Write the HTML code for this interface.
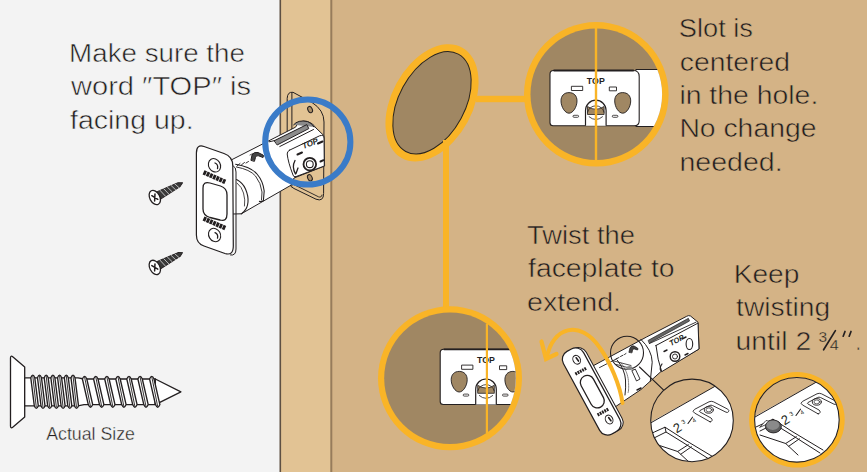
<!DOCTYPE html>
<html><head><meta charset="utf-8">
<style>
html,body{margin:0;padding:0;width:867px;height:472px;overflow:hidden;background:#f3f3f3}
svg{display:block}
text{font-family:"Liberation Sans",sans-serif;fill:#231f20}
.tl text{stroke:#f3f3f3;stroke-width:0.55px;paint-order:normal}
.tr text{stroke:#d4b386;stroke-width:0.55px;paint-order:normal}
</style></head><body>
<svg width="867" height="472" viewBox="0 0 867 472">
<defs>
 <clipPath id="c1"><circle cx="596.3" cy="94.3" r="65.8"/></clipPath>
 <clipPath id="c2"><circle cx="450" cy="378.3" r="65.8"/></clipPath>
 <clipPath id="c3"><circle cx="692" cy="420.4" r="41.3"/></clipPath>
 <clipPath id="c4"><circle cx="796.9" cy="419.8" r="42.3"/></clipPath>

 <g id="latch" stroke="#231f20" stroke-linejoin="round">
  <path d="M40,-41 L90,-41 L90,16 L40,16 Z" fill="#fff" stroke-width="1"/>
  <path d="M-42.3,-40 L37.4,-40 Q43.4,-40 43.4,-34 L43.4,10.2 Q43.4,15.2 38.4,15.2 L-42.8,15.2 Q-45.8,15.2 -45.8,12.2 L-45.8,-36.5 Q-45.8,-40 -42.3,-40 Z" fill="#fff" stroke-width="1.1"/>
  <path d="M-42.3,-40 L38,-40" stroke-width="1.8" fill="none"/>
  <text x="0" y="-26.2" font-size="9.8" font-weight="bold" text-anchor="middle" textLength="17.9" lengthAdjust="spacingAndGlyphs" stroke="none" style="fill:#231f20">TOP</text>
  <rect x="-24.4" y="-24.2" width="11.3" height="4.2" fill="#fff" stroke-width="0.9"/>
  <rect x="13.5" y="-23.5" width="7.2" height="3.8" fill="#fff" stroke-width="0.9"/>
  <path id="egg" d="M0,-10.3 C5,-10.3 8,-7 8,-2 C8,4 4,10.3 0,10.3 C-4,10.3 -8,4 -8,-2 C-8,-7 -5,-10.3 0,-10.3 Z" transform="translate(-26.8 -7.6)" fill="#a08763" stroke-width="0.9"/>
  <path d="M0,-10.3 C5,-10.3 8,-7 8,-2 C8,4 4,10.3 0,10.3 C-4,10.3 -8,4 -8,-2 C-8,-7 -5,-10.3 0,-10.3 Z" transform="translate(26.9 -7.6)" fill="#a08763" stroke-width="0.9"/>
  <path d="M-10.3,15.2 L-10.3,0 A10.3,10.3 0 0 1 10.3,0 L10.3,15.2" fill="#fff" stroke-width="1.2"/>
  <path d="M-8.3,-4 Q0,1.5 8.3,-4 L8.3,4 L-8.3,4 Z" fill="#a08763" stroke-width="0.8"/>
  <path d="M-8.3,2 A8.5,8.5 0 0 1 8.3,2 M-7,6 Q0,12 7,6" fill="none" stroke-width="0.8"/>
  <rect x="-22.8" y="4.8" width="5.6" height="2" rx="1" fill="#fff" stroke-width="0.8"/>
  <rect x="16.5" y="4.8" width="5.6" height="2" rx="1" fill="#fff" stroke-width="0.8"/>
 </g>

 <g id="magc">
  <path d="M600,450.5 L714.3,386.7 L714.3,330 L600,330 Z" fill="#d4b386"/>
  <path d="M714.3,386.7 L760,361 L760,330 L714.3,330 Z" fill="#d4b386"/>
  <g stroke="#231f20" stroke-width="1" fill="none" stroke-linejoin="round" stroke-linecap="round">
   <path d="M640,429 L714.3,386.7 L760,361"/>
   <path d="M648,435 L654.4,432 L665,427.2 L684,439.4 L715,458 M652,439 L666,432 L683,442.5 L712,461 M665,427.2 L666,432 M652,443 L677.7,451.5 L690,463 M677.7,451.5 L688.3,444.7 M680.8,454.2 L691.4,446.8"/>
   <path d="M710,421.8 L694.5,413 Q691.5,411.3 694.5,409.4 L709,401.8 Q711.3,400.8 713.5,401.8 L727.8,409.2 Q729.5,410.3 728.5,411.7 Q727.5,413 726,412.2 L712.5,405.5 Q711,404.8 709.5,405.5 L700,410.5 Q698.6,411.3 700,412 L711,418 Q712.5,419 712,420.6 Q711.3,422.2 710,421.8 Z" stroke-width="0.9"/>
   <ellipse cx="708.8" cy="409.9" rx="4.5" ry="3.3" stroke-width="0.9"/>
   <ellipse cx="708.8" cy="409.9" rx="2.8" ry="2" stroke-width="0.7"/>
   <path d="M688,423.5 L692.5,417.2" stroke-width="1.1"/>
  </g>
  <text x="0" y="0" font-size="13" stroke="none" transform="translate(676.5,433.5) rotate(-31)" style="fill:#231f20">2</text>
  <text x="0" y="0" font-size="6" stroke="none" transform="translate(683,424.5) rotate(-32)" style="fill:#231f20">3</text>
  <text x="0" y="0" font-size="6" stroke="none" transform="translate(693.8,423) rotate(-32)" style="fill:#231f20">4</text>
 </g>
</defs>
<!-- backgrounds -->
<rect x="0" y="0" width="280" height="472" fill="#f3f3f3"/>
<rect x="280" y="0" width="52" height="472" fill="#e2c394"/>
<rect x="332" y="0" width="535" height="472" fill="#d4b386"/>
<rect x="279.5" y="0" width="1.6" height="472" fill="#5e5043"/>
<rect x="330.3" y="0" width="2" height="472" fill="#977c5b"/>

<!-- left text -->
<g font-size="26.6" class="tl">
<text x="69.1" y="62" textLength="175.8" lengthAdjust="spacingAndGlyphs">Make sure the</text>
<text x="71.0" y="95.4" textLength="180.0" lengthAdjust="spacingAndGlyphs">word ″TOP″ is</text>
<text x="70.0" y="128.8" textLength="123.6" lengthAdjust="spacingAndGlyphs">facing up.</text>

</g><g font-size="26.6" class="tr">
<text x="678.8" y="37.3" textLength="74.2" lengthAdjust="spacingAndGlyphs">Slot is</text>
<text x="679.8" y="70.6" textLength="110.2" lengthAdjust="spacingAndGlyphs">centered</text>
<text x="679.4" y="104" textLength="138.9" lengthAdjust="spacingAndGlyphs">in the hole.</text>
<text x="679.4" y="137.4" textLength="137.0" lengthAdjust="spacingAndGlyphs">No change</text>
<text x="679.4" y="170.8" textLength="103.2" lengthAdjust="spacingAndGlyphs">needed.</text>

<text x="527.0" y="243.9" textLength="107.9" lengthAdjust="spacingAndGlyphs">Twist the</text>
<text x="528.0" y="277.3" textLength="146.6" lengthAdjust="spacingAndGlyphs">faceplate to</text>
<text x="527.0" y="310.7" textLength="94.1" lengthAdjust="spacingAndGlyphs">extend.</text>

<text x="733.7" y="283" textLength="65.7" lengthAdjust="spacingAndGlyphs">Keep</text>
<text x="736.1" y="316.4" textLength="94.2" lengthAdjust="spacingAndGlyphs">twisting</text>
<text x="735.6" y="349.8" textLength="75.6" lengthAdjust="spacingAndGlyphs">until 2</text>
<text x="818.6" y="341.6" font-size="14.8" textLength="8.6" lengthAdjust="spacingAndGlyphs" style="stroke-width:0.3px">3</text>
<text x="829.8" y="349.7" font-size="14.8" textLength="9" lengthAdjust="spacingAndGlyphs" style="stroke-width:0.3px">4</text>
<text x="856.2" y="349.8" textLength="4" lengthAdjust="spacingAndGlyphs">.</text>
</g>
<g class="tl"><text x="46.2" y="439.8" font-size="17.5" style="stroke-width:0.35px" textLength="88.8" lengthAdjust="spacingAndGlyphs" style="fill:#3a3a3a">Actual Size</text></g>

<path d="M823.6,349.8 L835.4,330.6 M845,331.5 L843.2,336.2 M851,331.5 L849.2,336.2" stroke="#231f20" stroke-width="1.7" stroke-linecap="round" fill="none"/>
<!-- ellipse hole -->
<g transform="translate(432 102.8) rotate(28.4)">
 <ellipse cx="0" cy="0" rx="40.5" ry="63" fill="#f9b427"/>
 <ellipse cx="0" cy="0" rx="33" ry="55.3" fill="#a08763" stroke="#2a2520" stroke-width="1"/>
</g>
<!-- connectors -->
<rect x="476" y="95.8" width="50" height="6.4" fill="#f9b427"/>
<rect x="443" y="140" width="6" height="170" fill="#f9b427"/>

<!-- top circle -->
<circle cx="596.3" cy="94.3" r="72.3" fill="#f9b427"/>
<circle cx="596.3" cy="94.3" r="65.8" fill="#a08763"/>
<g clip-path="url(#c1)"><use href="#latch" transform="translate(595.8 110.5)"/></g>
<rect x="594.8" y="28" width="2.4" height="133" fill="#f9b427"/>

<!-- bottom circle -->
<circle cx="450" cy="378.3" r="72" fill="#f9b427"/>
<circle cx="450" cy="378.3" r="65.8" fill="#a08763"/>
<g clip-path="url(#c2)"><use href="#latch" transform="translate(486 389.3)"/></g>
<rect x="485.8" y="323.5" width="2.2" height="110" fill="#f9b427"/>


<!-- lock 1 -->
<g stroke="#231f20" stroke-width="1" stroke-linejoin="round" stroke-linecap="round">
 <!-- backplate -->
 <path d="M287.2,98 Q287.5,91.5 293,92.3 L312,102.5 Q324,110 324,122 L323.6,193.5 Q323.6,202 316,199.2 L294,188.5 Q287.2,185 287.2,178 Z" fill="#e2c394"/>
 <path d="M292.7,184 L318.5,196.8 Q321.5,198 322,195" fill="none" stroke-width="0.9"/>
 <path d="M291.9,186 L291.9,93" fill="none"/>
 <ellipse cx="310.1" cy="109.6" rx="2.2" ry="3.3" transform="rotate(-25 310.1 109.6)" fill="#ad9068"/>
 <ellipse cx="309.9" cy="177.8" rx="2.2" ry="3.3" transform="rotate(-25 309.9 177.8)" fill="#ad9068"/>
 <!-- body -->
 <path d="M232,159.6 L295.5,127.2 Q299,119.5 307.5,121.5 Q313,123 316,128 L323.7,135.4 L324.6,166 L294,178 L291,185.2 L241.3,213.8 L233,214 Z" fill="#fff"/>
 <path d="M293.6,124.8 Q298,119.5 307.4,121.5 Q312,123 314,127" fill="#8a8a8a"/>
 <path d="M274.5,140.6 L306.8,124.6 L308.8,128.6 L277.5,144.8 Z" fill="#8c8c8c" stroke-width="1"/>
 <path d="M269.2,141.8 L274.5,140.6 M279.8,146.5 L313.5,129.5" fill="none"/>
 <!-- front TOP face -->
 <path d="M289.5,150.2 L319.6,135.8 Q324,134.5 324,138 L324.3,166 L296,176.6 Q293.5,177.5 293,175 Q288,162 287.2,154 Q287,151.4 289.5,150.2 Z" fill="#fff"/>
 <text x="0" y="0" font-size="8" font-weight="bold" font-style="italic" stroke="none" transform="translate(303.5,149) rotate(-22)" style="fill:#231f20">TOP</text>
 <path d="M297.5,154.5 L302,152.5 M318,143.5 L322.5,141.5 M320.5,161.5 L323.5,160.2" fill="none" stroke-width="2"/>
 <circle cx="309.8" cy="164.2" r="6.3" fill="#fff" stroke-width="1.8"/>
 <circle cx="309.8" cy="164.2" r="3.4" fill="none" stroke-width="1.1"/>
 <path d="M295.5,174 Q291.5,167 295,160.5 M296,173.5 L298,168" fill="none" stroke-width="1.3"/>
 <!-- collar -->
 <path d="M235.6,164.3 Q251,167 257,174 Q263,181 264.2,191 L263.4,200.5 Q262,202 259.4,201.4" fill="none" stroke-width="1.1"/>
 <path d="M236.5,167 Q250,169.5 255.5,176 Q261,183 262,192 L261.5,200" fill="none" stroke-width="0.9"/>
 <path d="M236.6,179.5 Q243,183 245.5,189 Q248.5,196 248,202 Q247.5,208 244,211.5 L241.3,213.8" fill="none" stroke-width="1.1"/>
 <path d="M237,183 Q242,187 243.5,193 Q245.5,200 244.5,206" fill="none" stroke-width="0.8"/>
 <!-- 2 3/4 marks -->
 <path d="M251,160 L252,155 Q254,151.5 258,152.5 L263,155 Q264.5,156.5 263,157.5 L258.5,155.8 Q256,155 255.5,157.5 L254.5,161 Z" fill="#444" stroke-width="1"/>
 <path d="M237,166 L240,163.5 M241.5,164.8 L244.5,162.5 M246,163 L248.5,161.5" fill="none" stroke-width="0.9"/>
 <!-- faceplate -->
 <path d="M233.5,166 Q236,167 236,172 L236,249 Q236,256 230.5,255" fill="none" stroke-width="1"/>
 <path d="M196.4,153 Q196.4,144 204,146.5 L224,153.5 Q232.8,156.5 232.8,166 L233.3,246 Q233.3,256 225,253.5 L204,246 Q196.4,243.5 196.4,235 Z" fill="#fff" stroke-width="1.2"/>
 <ellipse cx="214.5" cy="165.3" rx="5.8" ry="7" transform="rotate(-30 214.5 165.3)" fill="#fff" stroke-width="1.1"/>
 <path d="M215,163 Q218.5,164.5 217.5,168.5" fill="none" stroke-width="1.3"/>
 <ellipse cx="214.6" cy="235" rx="5.8" ry="7" transform="rotate(-30 214.6 235)" fill="#fff" stroke-width="1.1"/>
 <path d="M215,232.7 Q218.5,234.2 217.5,238.2" fill="none" stroke-width="1.3"/>
 <path d="M203,188 Q203,181 210,183 L220.5,186 Q227,188 227,195 L227,214 Q227,222 220,220 L210,217.5 Q203,215.5 203,209 Z" fill="#fff" stroke-width="1.3"/>
 <path d="M203.5,172.3 L225.5,182" fill="none" stroke-width="4.6" stroke-dasharray="2.8 0.7" stroke-linecap="butt"/>
 <path d="M203.5,218.5 L225.5,228.2" fill="none" stroke-width="4.6" stroke-dasharray="2.8 0.7" stroke-linecap="butt"/>
 <!-- 2 3/4 notch on body -->
 <path d="M250,155 L253,153.5" fill="none" stroke-width="0.8"/>
 <!-- screws -->
 <g transform="translate(154.8,197.5) rotate(-28)">
  <path d="M3,-4.2 L27.5,-2.2 L31.5,0 L27.5,2.2 L3,4.2 Z" fill="#3a3a3a" stroke-width="0.9"/>
  <path d="M8,-3.8 L10,3.8 M12,-3.5 L14,3.5 M16,-3.2 L18,3.2 M20,-3 L22,3 M24,-2.7 L26,2.7" stroke="#cfcfcf" stroke-width="0.8"/>
  <ellipse cx="0" cy="0" rx="5" ry="7.6" fill="#fff" stroke-width="1.3"/>
  <path d="M-1.8,-3 L1.8,3 M1.8,-3 L-1.8,3" stroke-width="1.5"/>
 </g>
 <g transform="translate(154.8,267.4) rotate(-28)">
  <path d="M3,-4.2 L27.5,-2.2 L31.5,0 L27.5,2.2 L3,4.2 Z" fill="#3a3a3a" stroke-width="0.9"/>
  <path d="M8,-3.8 L10,3.8 M12,-3.5 L14,3.5 M16,-3.2 L18,3.2 M20,-3 L22,3 M24,-2.7 L26,2.7" stroke="#cfcfcf" stroke-width="0.8"/>
  <ellipse cx="0" cy="0" rx="5" ry="7.6" fill="#fff" stroke-width="1.3"/>
  <path d="M-1.8,-3 L1.8,3 M1.8,-3 L-1.8,3" stroke-width="1.5"/>
 </g>
</g>
<!-- big screw -->
<g stroke="#231f20" stroke-width="1.3" stroke-linejoin="round" fill="#fff">
 <path d="M10.5,358 Q10.5,355 13,357 L24.7,367 L24.7,417 L13,427 Q10.5,429 10.5,426 Z"/>
 <path d="M24.7,377.8 L78,377.8 L84,379 L155.3,379 L155.3,404.6 L84,404.6 L78,405.8 L24.7,405.8 Z"/>
 <path d="M155.3,379 L180.9,391.8 L155.3,404.6 Z"/>
 <path stroke-width="1.35" d="M30.8,377.8 Q32.8,372.5 34.8,377.8 L38.3,405.8 Q36.3,411 34.3,405.8 Z M37.5,377.8 Q39.5,372.5 41.5,377.8 L45.0,405.8 Q43.0,411 41.0,405.8 Z M44.2,377.8 Q46.2,372.5 48.2,377.8 L51.7,405.8 Q49.7,411 47.7,405.8 Z M50.9,377.8 Q52.9,372.5 54.9,377.8 L58.4,405.8 Q56.4,411 54.4,405.8 Z M57.6,377.8 Q59.6,372.5 61.6,377.8 L65.1,405.8 Q63.1,411 61.1,405.8 Z M64.3,377.8 Q66.3,372.5 68.3,377.8 L71.8,405.8 Q69.8,411 67.8,405.8 Z M71.0,377.8 Q73.0,372.5 75.0,377.8 L78.5,405.8 Q76.5,411 74.5,405.8 Z M82.4,379 Q84.6,373.8 86.8,379 L92.7,404.6 Q90.5,409.8 88.3,404.6 Z M93.6,379 Q95.8,373.8 98.0,379 L103.9,404.6 Q101.7,409.8 99.5,404.6 Z M104.7,379 Q106.9,373.8 109.1,379 L115.0,404.6 Q112.8,409.8 110.6,404.6 Z M115.8,379 Q118.0,373.8 120.2,379 L126.1,404.6 Q123.9,409.8 121.7,404.6 Z M126.8,379 Q129.0,373.8 131.2,379 L137.1,404.6 Q134.9,409.8 132.7,404.6 Z M137.9,379 Q140.1,373.8 142.3,379 L148.2,404.6 Q146.0,409.8 143.8,404.6 Z M149.6,379 Q151.8,373.8 154.0,379 L159.9,404.6 Q157.7,409.8 155.5,404.6 Z"/>
 <path fill="none" stroke-width="0.9" d="M32.8,376 L36.3,407.5 M39.5,376 L43.0,407.5 M46.2,376 L49.7,407.5 M52.9,376 L56.4,407.5 M59.6,376 L63.1,407.5 M66.3,376 L69.8,407.5 M73.0,376 L76.5,407.5 M84.6,377 L90.5,406.5 M95.8,377 L101.7,406.5 M106.9,377 L112.8,406.5 M118.0,377 L123.9,406.5 M129.0,377 L134.9,406.5 M140.1,377 L146.0,406.5 M151.8,377 L157.7,406.5"/>
</g>

<!-- lock 2 -->
<g stroke="#231f20" stroke-width="1" stroke-linejoin="round" stroke-linecap="round">
 <!-- body narrow + housing -->
 <path d="M590,367.5 L646.5,337 L686.5,316.4 Q688.4,315 690.5,316 L698,322.2 L699,349 L661,371.5 L641,389.5 L615,407 Z" fill="#fff"/>
 <path d="M648.4,340.3 L688.4,318.3 L689.5,321 L649.5,343 Z" fill="#666" stroke-width="0.7"/>
 <path d="M649.3,343.6 L696,322.2" fill="none" stroke-width="0.9"/>
 <path d="M640.8,339.3 Q652,350 652.2,362.2 L650.3,381.3" fill="none"/>
 <path d="M656,345.5 L698,323.1 L699,349 L661.7,371.7 Q657.5,360 656,345.5 Z" fill="#fff"/>
 <text x="0" y="0" font-size="7.5" font-weight="bold" font-style="italic" stroke="none" transform="translate(671,346) rotate(-27)" style="fill:#231f20">TOP</text>
 <circle cx="675" cy="356.5" r="4.8" fill="#fff" stroke-width="1.4"/>
 <circle cx="675" cy="356.5" r="2.5" fill="none" stroke-width="0.9"/>
 <ellipse cx="689.4" cy="344" rx="3.3" ry="5.5" fill="#fff" stroke-width="1.1"/>
 <path d="M664,351.5 L667,350 M682,339 L686,337 M685,355 L688,353.5" fill="none" stroke-width="1.4"/>
 <path d="M662,364 Q659,368 661,371" fill="none" stroke-width="1.2"/>
 <path d="M617.3,360.2 Q625,370 625.5,380 Q626,388 625,395" fill="none"/>
 <path d="M621,363 Q628,372 628.5,382 Q629,390 628,393" fill="none" stroke-width="0.6" stroke-dasharray="1 1"/>
 <path d="M599.5,367.6 L617,358.6" fill="none" stroke-width="0.9"/>
 <path d="M632,371 L636.5,381 L640,379 L635.5,369.5 Z" fill="#fff" stroke-width="0.9"/>
 <path d="M637,390 L641,388" fill="none" stroke-width="1.5"/>
 <!-- faceplate 2 -->
 <g transform="translate(592.5,391) rotate(-28.5)">
  <rect x="-10" y="-46" width="23" height="93" rx="9" fill="#fff" stroke-width="1"/>
  <rect x="-12.5" y="-47" width="23" height="94" rx="9" fill="#fff" stroke-width="1.2"/>
  <ellipse cx="1" cy="-35" rx="3.6" ry="4.6" fill="#fff"/>
  <path d="M1.5,-37 L2,-33" stroke-width="1.6"/>
  <ellipse cx="1" cy="33" rx="3.6" ry="4.6" fill="#fff"/>
  <path d="M1.5,31 L2,35" stroke-width="1.6"/>
  <rect x="-7.5" y="-17" width="14" height="35" rx="7" fill="#fff" stroke-width="1.3"/>
  <path d="M-7,-23 L6,-23 M-7,23.5 L6,23.5" fill="none" stroke-width="3.2" stroke-dasharray="1.8 0.8" stroke-linecap="butt"/>
 </g>
 <!-- small magnifier -->
 <circle cx="627" cy="352.8" r="16.5" fill="none" stroke-width="1.1"/>
 <path d="M614,361 L631,365.5 M616.5,364.5 L633,369" fill="none" stroke-width="0.8"/>
 <path d="M616,359 L619,357.5 M620.5,356.5 L623,355.2 M624.5,354.5 L626,353.5" fill="none" stroke-width="0.9"/>
 <path d="M629,352 L630,348 Q631.5,345 634,346 L637.5,348 Q638.5,349 637.5,350 L634.5,349 Q633,348.5 632.5,350 L632,352.5 Z" fill="#444" stroke-width="0.8"/>
 <ellipse cx="629.5" cy="368" rx="3" ry="2" fill="#888" stroke="none"/>
 <path d="M639.5,367 L665,391.4" fill="none" stroke-width="1.1"/>
</g>
<!-- yellow arc arrow -->
<path d="M547,357 C552,328 580,318 600,348 C610,362 620,385 622.5,403" fill="none" stroke="#f9b427" stroke-width="4" stroke-linecap="round"/>
<path d="M541.5,341.5 L546,359 L556.5,354" fill="none" stroke="#f9b427" stroke-width="4.2" stroke-linecap="round" stroke-linejoin="miter"/>

<!-- big magnifier 1 -->
<circle cx="692" cy="420.4" r="41.3" fill="#fff"/>
<g clip-path="url(#c3)"><use href="#magc"/></g>
<circle cx="692" cy="420.4" r="41.3" fill="none" stroke="#231f20" stroke-width="1.1"/>

<!-- yellow magnifier -->
<circle cx="796.9" cy="419.8" r="47.8" fill="#f9b427"/>
<circle cx="796.9" cy="419.8" r="42.5" fill="#fff"/>
<g clip-path="url(#c4)"><use href="#magc" transform="translate(108 -8)"/>
 <path d="M759.6,427.4 L766,420.5 L772,422 Z" fill="#fff" stroke="#231f20" stroke-width="0.8"/>
 <ellipse cx="773.4" cy="426.5" rx="8" ry="6.4" fill="#5e5e5e" stroke="#231f20" stroke-width="0.9"/>
 <ellipse cx="772.8" cy="425.2" rx="6.4" ry="4.8" fill="#8a8a8a"/>
</g>
<circle cx="796.9" cy="419.8" r="42.3" fill="none" stroke="#231f20" stroke-width="1.1"/>

<!-- blue circle -->
<circle cx="307.8" cy="142" r="42.6" fill="none" stroke="#3a7bc8" stroke-width="6"/>
</svg>
</body></html>
